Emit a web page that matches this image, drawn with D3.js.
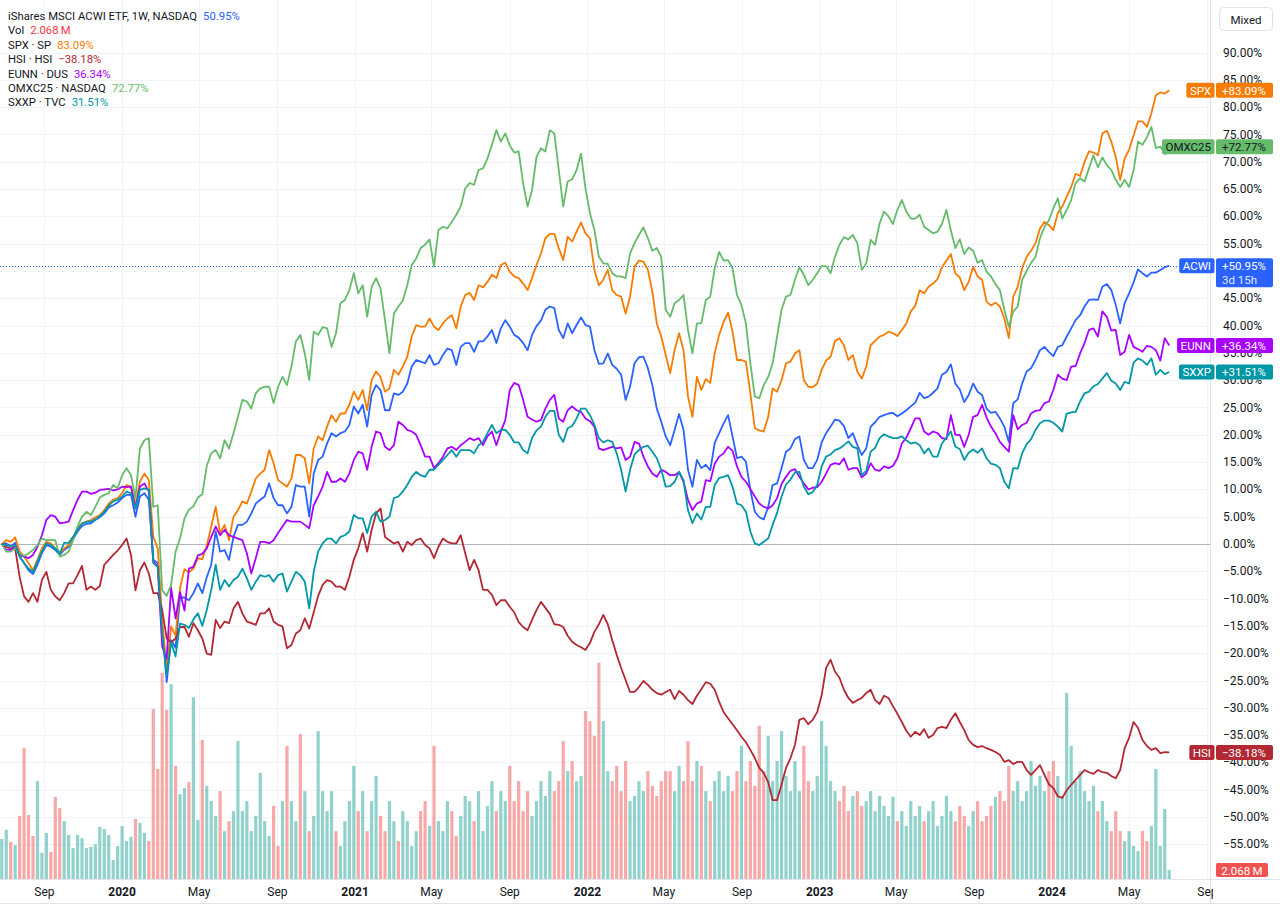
<!DOCTYPE html>
<html><head><meta charset="utf-8">
<script src="https://cdn.jsdelivr.net/npm/d3@7"></script>
<style>
html,body{margin:0;padding:0;background:#fff;}
svg{display:block;font-family:Roboto,"Noto Sans",sans-serif;}
</style></head><body>
<svg id="chart" width="1280" height="907"></svg>
<script>
// ---- data (weekly bars, % change since first bar) ----
const startDate = "2019-06-26";
const acwi = [0,0.1,-0.4,0.2,-2.3,-3.5,-4.8,-5.5,-3.8,-1.7,
-0.2,-0.5,-1.1,-2.0,-1.1,-0.5,0.9,2.3,3.3,3.7,
3.8,4.4,4.9,5.6,6.7,7.1,7.6,8.4,9.0,9.0,
5.0,8.7,9.3,8.1,-2.9,-3.5,-15.1,-25.3,-17.6,-19.0,
-9.8,-9.8,-10.3,-9.0,-7.2,-9.0,-6.1,-3.8,2.3,-1.4,
-1.1,-2.9,1.3,3.5,3.5,4.1,5.6,7.4,8.1,8.7,
11.1,8.4,7.1,7.1,5.6,6.8,10.8,10.5,10.5,5.0,
12.9,15.4,16.0,18.4,20.3,19.7,20.3,20.6,21.8,25.2,
23.9,25.5,21.5,27.3,29.1,28.2,24.5,24.5,27.6,27.3,
27.9,29.4,32.5,33.7,33.4,33.1,34.6,32.8,33.1,34.6,
35.8,35.5,32.8,36.1,36.8,36.8,35.2,37.1,37.1,38.0,
39.2,36.8,39.5,41.0,39.8,38.3,37.8,36.8,35.5,38.3,
39.9,40.9,42.9,43.5,43.2,39.2,37.7,40.4,38.6,40.1,
41.5,40.1,39.8,35.5,33.0,33.1,34.9,32.8,32.1,31.0,
26.4,28.8,33.1,34.2,34.3,32.2,29.1,24.8,22.4,19.7,
18.1,20.9,23.8,20.9,13.6,10.5,15.4,13.9,14.5,13.5,
18.5,20.3,22.1,23.6,19.7,15.7,16.0,15.1,9.9,5.9,
4.9,4.5,6.8,10.8,11.1,13.9,16.9,17.5,19.2,19.7,
15.4,13.9,13.9,15.4,18.6,20.3,21.5,22.8,22.6,21.6,
19.4,20.3,18.1,16.3,17.5,21.5,22.3,23.3,23.6,23.9,
24.0,23.4,23.9,24.5,25.2,25.9,27.7,26.7,27.0,27.7,
28.5,31.0,31.5,32.9,29.4,28.3,26.0,27.3,29.4,27.9,
27.3,24.8,24.0,24.2,23.0,21.5,18.7,25.8,26.5,29.4,
31.6,32.2,33.7,35.5,36.1,35.2,34.4,36.1,36.4,38.0,
39.5,41.0,41.9,43.5,44.7,44.8,44.7,47.1,47.6,46.5,
43.8,40.4,44.1,45.9,47.9,50.3,49.6,49.0,49.7,49.7,
50.2,50.7,50.95];
const spx = [0,0.7,0.4,1.2,-1.4,-2.3,-3.5,-4.8,-2.9,-0.8,
0.4,0.1,-0.8,-1.7,-0.8,-0.2,1.3,2.9,3.8,4.1,
4.4,4.9,5.3,6.2,7.4,8.1,8.4,9.3,10.8,10.5,
7.1,11.4,12.9,11.7,1.3,-0.8,-13.9,-23.0,-15.1,-16.8,
-8.0,-4.6,-5.2,-4.5,-2.6,-2.8,-0.3,3.2,6.8,2.0,
3.5,0.7,5.0,6.2,7.8,7.4,9.6,12.0,12.9,13.6,
17.2,14.8,11.7,11.1,10.5,12.0,16.3,16.3,15.7,11.1,
17.5,19.7,19.0,21.5,23.6,22.4,23.9,23.9,25.5,27.9,
26.4,28.2,24.5,30.0,31.6,30.6,27.9,28.5,31.9,31.0,
32.5,34.3,38.0,40.1,39.8,39.8,41.3,39.8,39.2,40.4,
41.3,41.9,39.5,43.5,45.6,46.0,44.7,47.4,47.0,48.0,
49.3,48.7,51.1,51.5,49.9,49.0,48.7,47.7,46.5,48.7,
51.1,53.2,56.0,56.8,56.8,54.2,52.0,56.3,55.4,57.2,
58.9,56.9,56.0,50.2,47.4,48.4,50.2,46.5,45.6,45.3,
42.2,45.3,50.8,51.9,51.7,50.2,46.2,40.4,38.0,34.6,
31.3,35.5,38.6,35.5,27.0,23.3,30.6,28.2,30.2,29.5,
35.0,38.3,40.7,42.4,38.9,33.7,33.7,33.4,27.6,21.2,
20.8,20.6,23.3,28.5,27.9,30.0,33.1,33.4,34.9,35.5,
30.0,28.8,28.7,29.4,31.9,33.6,34.3,37.2,37.7,36.4,
33.7,34.6,31.6,30.3,32.5,36.4,37.2,38.0,38.3,38.9,
38.6,38.1,39.2,40.4,42.6,43.6,46.5,45.9,47.1,47.7,
48.5,50.7,51.9,53.1,49.6,48.8,46.5,48.0,50.8,49.0,
48.4,44.4,43.7,44.2,43.5,41.3,37.7,45.3,47.1,50.5,
52.6,53.7,55.1,57.8,59.0,58.4,57.5,60.6,61.8,63.6,
65.4,67.8,67.4,70.0,71.9,71.7,71.2,75.2,75.7,73.7,
70.9,66.7,70.6,72.2,74.8,77.4,77.4,76.4,78.9,82.2,
82.7,82.5,83.09];
const hsi = [0,-0.5,-0.8,-0.8,-6.0,-9.6,-10.6,-9.0,-10.6,-6.6,
-5.1,-8.4,-9.6,-10.3,-9.0,-7.2,-7.2,-5.7,-4.0,-8.4,
-7.8,-8.4,-7.7,-3.8,-2.9,-2.0,-1.2,-0.2,1.0,-2.0,
-8.5,-4.8,-3.4,-5.4,-9.0,-9.0,-12.1,-17.3,-18.0,-17.3,
-15.2,-15.2,-17.0,-14.5,-15.8,-17.3,-20.1,-20.3,-13.9,-15.4,
-14.2,-14.5,-11.8,-10.6,-12.7,-14.2,-14.5,-14.8,-12.7,-12.7,
-11.8,-14.2,-14.8,-15.1,-19.1,-18.5,-16.4,-15.8,-13.6,-15.5,
-12.5,-9.5,-7.5,-6.6,-6.9,-7.8,-7.8,-8.4,-6.0,-2.9,
-0.8,2.0,-1.4,2.6,5.6,6.5,1.3,0.7,0.1,0.4,
-1.4,0.4,-0.2,0.7,1.0,-0.2,-0.8,-2.6,-0.5,1.0,
0.4,0.1,0.1,1.6,-1.7,-4.8,-2.9,-4.8,-8.4,-8.4,
-9.3,-11.2,-10.3,-10.3,-11.5,-12.5,-14.3,-15.2,-15.8,-13.9,
-12.1,-10.6,-11.7,-12.8,-14.7,-14.8,-15.2,-16.8,-17.9,-18.5,
-18.9,-19.4,-18.1,-16.1,-14.7,-13.0,-14.7,-17.6,-20.3,-22.7,
-24.9,-27.1,-27.1,-26.2,-25.1,-25.8,-26.7,-27.3,-27.6,-27.1,
-26.7,-28.4,-26.9,-27.6,-28.6,-29.3,-27.8,-26.6,-25.3,-25.6,
-26.7,-28.9,-30.8,-31.9,-33.0,-34.1,-35.3,-36.3,-37.7,-39.2,
-41.0,-41.9,-43.6,-46.9,-46.9,-44.1,-41.0,-39.2,-36.8,-32.2,
-31.9,-33.0,-32.2,-30.8,-27.7,-22.7,-21.2,-23.4,-24.5,-26.7,
-28.2,-29.1,-28.6,-28.2,-27.3,-26.7,-28.6,-29.3,-27.8,-28.2,
-29.7,-31.1,-32.6,-34.2,-35.3,-34.4,-35.0,-33.9,-35.5,-35.0,
-33.7,-33.5,-33.7,-32.2,-31.0,-32.6,-34.1,-35.9,-36.8,-37.2,
-37.0,-37.4,-37.7,-38.1,-38.6,-39.9,-39.6,-40.3,-39.9,-39.9,
-41.4,-42.3,-41.4,-40.5,-42.3,-44.0,-44.7,-46.2,-46.5,-45.1,
-44.1,-43.2,-42.3,-41.4,-41.8,-42.1,-41.4,-41.8,-41.9,-42.5,
-42.9,-41.4,-37.4,-35.5,-32.6,-33.7,-35.9,-37.0,-37.7,-37.4,
-38.3,-38.1,-38.18];
const eunn = [0,-1.0,-1.1,-0.2,-2.0,-2.3,-2.6,-2.0,-0.5,1.6,
4.4,5.3,5.0,3.8,3.9,4.1,6.2,8.1,9.6,9.6,
9.2,9.4,9.9,10.0,10.1,9.8,10.0,10.5,10.4,10.5,
6.5,10.5,11.1,9.6,-3.2,-4.2,-18.8,-21.0,-8.0,-13.6,
-8.8,-12.2,-4.5,-4.2,-2.1,-1.8,-0.8,1.3,3.2,1.6,
2.6,1.6,1.3,1.0,0.7,-1.7,-5.4,-2.6,0.4,0.4,
0.1,0.7,2.0,3.2,4.4,4.1,4.1,4.1,3.5,2.9,
7.1,8.7,10.5,13.2,11.4,11.4,12.0,11.4,12.9,15.4,
16.9,16.6,13.6,17.8,20.6,20.3,17.8,17.2,18.1,22.4,
21.8,20.9,20.6,20.0,18.1,16.0,16.0,13.9,14.8,16.0,
17.5,17.8,17.2,18.1,18.7,19.4,19.0,19.4,18.1,19.7,
20.6,18.1,20.6,22.7,28.2,29.5,29.1,26.4,23.3,22.8,
22.4,22.7,24.8,26.4,27.3,23.0,22.4,24.5,25.2,24.5,
24.2,23.0,22.5,21.5,17.5,17.2,17.5,17.8,17.5,17.7,
15.4,16.0,18.7,18.4,16.0,14.2,12.9,12.3,13.6,13.2,
12.6,12.6,13.2,11.4,8.1,6.2,7.4,7.8,11.7,11.5,
14.7,16.0,16.6,17.8,17.1,14.2,12.3,11.4,10.1,8.7,
7.4,6.8,6.5,7.1,8.4,11.0,12.3,13.4,13.7,12.3,
11.1,10.0,10.3,10.4,11.4,12.9,14.5,14.8,14.6,15.7,
13.6,13.9,13.9,12.2,12.9,14.8,13.6,13.4,14.2,13.9,
14.3,15.7,18.4,19.5,21.2,23.0,23.0,20.6,20.0,20.6,
20.3,19.4,19.2,23.6,20.0,20.0,17.8,20.0,23.3,23.6,
25.5,23.2,21.5,20.3,18.7,17.8,16.9,23.6,21.0,21.8,
22.2,23.9,24.4,24.5,25.8,26.1,28.2,31.0,30.3,30.0,
32.5,32.6,34.9,36.8,39.2,39.5,38.0,42.6,41.6,39.1,
39.2,34.6,35.2,38.3,36.1,35.7,35.2,36.3,36.1,35.5,
33.6,37.7,36.34];
const omxc25 = [0,-1.4,-1.4,-0.8,-1.7,-2.2,-1.7,-1.1,-0.2,1.0,
0.7,0.7,0.7,-2.3,-2.0,-1.4,0.7,3.2,5.0,5.9,
5.3,6.8,8.5,9.0,9.3,10.8,10.2,12.6,13.9,12.6,
8.4,17.5,19.0,19.4,6.8,7.1,-8.5,-9.5,-7.5,-1.4,
1.0,4.7,6.3,6.9,8.5,9.1,14.3,16.6,17.2,15.7,
19.0,17.5,20.3,23.3,26.4,26.1,24.8,27.6,28.5,28.8,
28.8,25.8,28.8,30.6,29.1,32.5,37.1,38.3,34.9,30.0,
38.9,38.3,39.7,39.5,36.1,38.6,44.1,44.7,46.5,49.6,
45.9,47.4,41.6,47.1,48.7,46.8,41.0,34.9,42.2,43.5,
44.6,47.4,51.1,52.3,54.2,54.8,55.8,50.8,57.5,58.1,
57.8,59.0,60.3,61.8,65.1,66.1,65.8,68.5,68.8,70.6,
73.1,75.8,73.7,75.2,73.0,71.7,71.9,66.1,61.8,64.8,
70.9,72.5,71.9,75.8,75.2,68.5,61.8,66.4,66.8,68.5,
71.5,65.1,60.6,57.5,52.6,51.4,51.3,49.6,49.0,49.0,
48.7,53.2,55.1,56.6,58.0,56.0,53.7,54.2,52.6,42.9,
41.6,44.1,44.7,45.6,39.2,34.9,40.4,40.4,44.7,45.3,
50.5,53.5,51.9,52.0,50.5,45.6,43.8,40.4,33.1,27.0,
26.7,29.1,30.6,33.1,38.0,42.9,45.3,45.6,48.4,50.7,
49.3,47.4,48.4,49.6,50.9,50.9,49.6,52.6,54.8,56.2,
55.8,56.6,55.1,50.2,51.4,55.7,54.8,58.7,60.9,60.0,
58.6,61.2,63.0,60.9,59.6,59.6,60.3,58.1,57.5,56.9,
57.2,58.6,61.2,57.4,54.2,55.8,53.1,54.3,53.7,51.5,
52.0,49.9,49.0,47.6,46.5,42.9,39.8,42.6,43.5,48.4,
50.0,51.5,52.6,56.0,58.1,59.3,61.5,63.3,59.6,61.2,
63.0,66.1,67.0,66.4,68.8,71.2,69.0,70.8,69.4,68.5,
66.7,65.4,66.7,65.4,68.4,73.7,73.1,74.5,76.4,72.5,
72.8,71.4,72.77];
const sxxp = [0,-0.2,-0.4,-0.2,-2.3,-3.5,-4.5,-5.1,-3.2,-1.4,
0.1,-0.2,-0.8,-1.7,0.2,0.2,1.3,2.6,3.7,4.1,
4.1,4.5,5.1,5.9,7.0,7.8,8.1,8.7,9.6,9.3,
6.5,9.9,10.2,9.9,-3.5,-4.2,-16.4,-24.0,-18.0,-20.6,
-14.6,-14.8,-15.4,-13.8,-12.7,-15.0,-12.1,-8.4,-3.8,-8.4,
-6.6,-7.8,-6.6,-6.0,-4.5,-6.3,-8.4,-6.9,-5.7,-6.0,
-5.7,-6.9,-5.7,-5.4,-8.7,-6.9,-5.1,-5.7,-6.9,-11.8,
-5.1,-1.4,0.1,1.0,1.0,0.1,1.3,1.6,2.3,5.3,
4.7,4.7,2.0,5.0,5.9,4.1,4.4,5.0,8.4,8.7,
9.6,10.8,12.3,13.2,12.6,12.3,13.6,13.6,14.5,15.4,
16.3,17.2,16.0,17.2,17.2,17.2,16.6,18.1,18.7,20.3,
21.8,20.3,20.9,20.9,20.0,18.6,18.6,17.2,16.6,19.4,
20.8,21.5,23.3,24.4,24.4,20.0,18.7,21.2,21.6,23.0,
24.8,24.8,23.6,21.8,19.4,18.6,19.0,18.7,16.6,13.6,
9.6,13.6,16.4,17.2,17.8,18.0,16.9,15.7,13.6,10.5,
10.6,11.4,13.2,11.7,6.2,3.8,5.6,4.5,6.8,6.8,
10.8,12.1,12.3,12.6,10.5,7.4,7.1,5.9,2.3,0.1,
-0.2,0.4,1.0,3.5,5.7,8.7,10.9,11.8,13.1,13.2,
10.5,9.1,9.5,10.8,14.2,16.0,16.4,17.2,17.5,18.1,
18.8,17.8,17.5,12.6,13.4,16.9,17.6,19.4,20.1,19.7,
19.4,19.4,19.7,19.0,18.4,18.6,18.1,16.6,17.5,16.0,
16.0,18.4,19.5,20.6,17.8,17.4,15.4,16.7,17.3,16.7,
17.5,15.7,14.7,14.5,13.9,11.4,10.2,13.9,13.8,16.6,
18.3,19.2,20.9,22.1,22.6,22.6,22.2,21.5,20.6,23.9,
24.1,24.2,26.1,27.6,27.9,28.9,29.3,30.3,31.3,29.9,
29.4,28.2,29.7,29.4,33.2,34.0,33.6,32.8,34.0,31.0,
31.9,31.1,31.51];
// weekly volume, millions of shares
const volume = [9.2,11.3,8.5,7.8,14.5,30.1,14.7,9.9,22.5,6.0,
10.6,6.2,18.9,16.3,13.3,10.1,7.1,10.1,9.4,7.1,
7.4,8.0,12.0,11.5,10.1,4.4,7.6,12.2,8.7,9.7,
13.8,12.9,10.6,8.7,39.1,25.3,47.4,38.9,44.8,26.0,
19.5,20.9,22.3,41.8,13.6,32.0,21.4,17.9,14.5,20.2,
11.0,13.3,15.6,31.7,15.6,17.9,11.0,14.5,24.4,13.3,
9.9,16.8,7.6,17.9,30.6,17.9,13.3,33.3,20.2,11.0,
14.5,34.0,20.2,15.6,20.2,11.0,7.6,13.3,17.9,26.0,
15.6,20.2,11.0,17.9,23.7,14.5,11.0,17.9,13.3,8.7,
15.6,13.3,7.6,11.0,15.6,17.9,12.2,30.6,13.3,11.0,
17.9,15.6,9.9,14.5,19.1,17.9,13.3,20.2,11.0,16.8,
22.5,15.6,20.2,17.9,26.0,17.9,22.5,15.6,20.2,14.5,
17.9,22.5,19.1,24.8,20.2,22.5,31.7,24.8,27.1,22.5,
23.7,38.6,36.3,32.9,49.7,36.3,24.8,22.5,26.0,20.2,
27.1,17.9,19.1,22.5,20.2,24.8,21.4,19.1,22.5,24.8,
24.8,20.2,26.0,22.5,31.7,22.5,27.1,26.0,20.2,17.9,
22.5,24.8,20.2,23.7,20.2,24.8,30.6,22.5,27.1,21.4,
35.2,24.8,32.9,22.5,27.1,34.0,23.7,20.2,27.1,20.2,
30.6,22.5,20.2,23.7,36.3,30.6,22.5,20.2,17.9,21.4,
15.6,19.1,20.2,16.8,17.9,20.2,15.6,19.1,16.8,14.5,
18.9,13.3,15.6,12.2,17.9,14.5,16.8,13.3,15.6,17.9,
12.2,14.5,19.1,15.6,13.3,16.8,14.5,12.2,15.6,17.9,
13.3,14.5,16.8,18.9,20.2,17.9,26.0,20.2,22.5,17.9,
20.2,27.1,21.4,23.7,20.2,24.8,27.1,23.7,19.1,42.8,
30.6,22.5,24.8,20.2,17.9,21.4,15.6,17.9,13.3,11.0,
15.6,11.0,8.7,11.0,7.6,6.4,11.0,8.7,12.2,25.3,
7.6,16.1,2.068];

const yTickValues = [90,85,80,75,70,65,60,55,50,45,40,35,30,25,20,15,10,5,0,-5,-10,-15,-20,-25,-30,-35,-40,-45,-50,-55];
const xTickDates = ["2019-09-01","2020-01-01","2020-05-01","2020-09-01","2021-01-01","2021-05-01","2021-09-01","2022-01-01","2022-05-01","2022-09-01","2023-01-01","2023-05-01","2023-09-01","2024-01-01","2024-05-01","2024-09-01"];
const xTickLabels = ["Sep","2020","May","Sep","2021","May","Sep","2022","May","Sep","2023","May","Sep","2024","May","Sep"];

const seriesNames = ["ACWI","SPX","HSI","EUNN","OMXC25","SXXP"];
const legendNames = ["iShares MSCI ACWI ETF, 1W, NASDAQ","SPX · SP","HSI · HSI","EUNN · DUS","OMXC25 · NASDAQ","SXXP · TVC"];
const seriesColors = ["#2962ff","#f57c00","#b22833","#aa00ff","#66bb6a","#0097a7"];
const labelTextColors = ["#fff","#fff","#fff","#fff","#131722","#fff"];
const seriesData = [acwi, spx, hsi, eunn, omxc25, sxxp];

// ---- layout ----
const PANE_R = 1210, PANE_B = 879;
const svg = d3.select("#chart");
const parse = d3.timeParse("%Y-%m-%d");
const d0 = parse(startDate);
const dates = acwi.map((_, i) => d3.timeDay.offset(d0, 7 * i));
const x = d3.scaleTime().domain([d0, dates[dates.length - 1]]).range([1.8, 1169.2]);
const y = d3.scaleLinear().domain([0, 90]).range([544, 52.6]);
const yv = d3.scaleLinear().domain([0, 50]).range([PANE_B, PANE_B - 217.5]);

svg.append("rect").attr("width",1280).attr("height",907).attr("fill","#fff");
svg.append("defs").append("clipPath").attr("id","pane")
  .append("rect").attr("x",0).attr("y",0).attr("width",PANE_R).attr("height",PANE_B);
svg.select("defs").append("clipPath").attr("id","timeclip")
  .append("rect").attr("x",0).attr("y",PANE_B).attr("width",PANE_R+3).attr("height",30);

// grid
const grid = svg.append("g").attr("clip-path","url(#pane)");
grid.selectAll("line.h").data(yTickValues).join("line")
  .attr("x1",0).attr("x2",PANE_R).attr("y1",d=>Math.round(y(d))+0.5).attr("y2",d=>Math.round(y(d))+0.5)
  .attr("stroke","#f0f3fa").attr("stroke-width",1);
grid.selectAll("line.v").data(xTickDates).join("line")
  .attr("x1",d=>Math.round(x(parse(d)))+0.5).attr("x2",d=>Math.round(x(parse(d)))+0.5)
  .attr("y1",0).attr("y2",PANE_B).attr("stroke","#f0f3fa").attr("stroke-width",1);

// volume bars
const plot = svg.append("g").attr("clip-path","url(#pane)");
plot.selectAll("rect.vol").data(volume).join("rect")
  .attr("x",(d,i)=>x(dates[i]) - 1.6).attr("width",3.2)
  .attr("y",d=>yv(d)).attr("height",d=>PANE_B - yv(d))
  .attr("fill",(d,i)=> (i===0 || acwi[i] >= acwi[i-1]) ? "rgba(38,166,154,0.5)" : "rgba(239,83,80,0.5)");

// zero line
plot.append("line").attr("x1",0).attr("x2",PANE_R).attr("y1",Math.round(y(0))+0.5).attr("y2",Math.round(y(0))+0.5)
  .attr("stroke","#b2b5be").attr("stroke-width",1);
// last price dotted line
const lastY = y(acwi[acwi.length-1]);
plot.append("line").attr("x1",0).attr("x2",PANE_R).attr("y1",Math.round(lastY)+0.5).attr("y2",Math.round(lastY)+0.5)
  .attr("stroke","#2962ff").attr("stroke-width",1).attr("stroke-dasharray","1,2");

// lines
const line = d3.line().x((d,i)=>x(dates[i])).y(d=>y(d));
seriesData.forEach((s, k) => {
  plot.append("path").datum(s).attr("d", line).attr("fill","none")
    .attr("stroke", seriesColors[k]).attr("stroke-width",1.8).attr("stroke-linejoin","round");
});

// borders
svg.append("line").attr("x1",PANE_R+0.5).attr("x2",PANE_R+0.5).attr("y1",0).attr("y2",903).attr("stroke","#e0e3eb");
svg.append("line").attr("x1",0).attr("x2",1280).attr("y1",PANE_B+0.5).attr("y2",PANE_B+0.5).attr("stroke","#e0e3eb");
svg.append("line").attr("x1",0).attr("x2",1280).attr("y1",903.5).attr("y2",903.5).attr("stroke","#e0e3eb");

// price axis labels
const fmtPct = v => (v < 0 ? "\u2212" : "") + Math.abs(v).toFixed(2) + "%";
svg.append("g").selectAll("text").data(yTickValues).join("text")
  .attr("x",1223).attr("y",d=>y(d)).attr("dominant-baseline","central")
  .attr("font-size",12).attr("fill","#131722").text(fmtPct);

// time axis labels
svg.append("g").attr("clip-path","url(#timeclip)").selectAll("text").data(xTickDates).join("text")
  .attr("x",d=>x(parse(d))).attr("y",892).attr("text-anchor","middle").attr("dominant-baseline","central")
  .attr("font-size",12).attr("fill","#131722")
  .attr("font-weight",(d,i)=> /^\d{4}$/.test(xTickLabels[i]) ? 700 : 400)
  .text((d,i)=>xTickLabels[i]);

// value labels on the price scale
function valueLabel(name, valText, color, txtColor, yPos, extra) {
  const g = svg.append("g");
  const nt = g.append("text").attr("font-size",11.5).text(name);
  const w = nt.node().getComputedTextLength();
  const bw = w + 7;
  g.insert("rect","text").attr("x",1214.5 - bw).attr("y",yPos-7.5).attr("width",bw).attr("height",15).attr("rx",2).attr("fill",color);
  nt.attr("x",1214.5 - bw/2).attr("y",yPos+0.5).attr("text-anchor","middle").attr("dominant-baseline","central").attr("fill",txtColor);
  const h = extra ? 29 : 15;
  g.append("rect").attr("x",1216).attr("y",yPos-7.5).attr("width",57).attr("height",h).attr("rx",2).attr("fill",color);
  g.append("text").attr("x",1222).attr("y",yPos+0.5).attr("dominant-baseline","central").attr("font-size",11.5).attr("fill",txtColor).text(valText);
  if (extra) g.append("text").attr("x",1222).attr("y",yPos+14).attr("dominant-baseline","central").attr("font-size",11.5).attr("fill",txtColor).attr("opacity",0.85).text(extra);
}
const signed = v => (v >= 0 ? "+" : "\u2212") + Math.abs(v).toFixed(2) + "%";
seriesData.forEach((s,k) => {
  const v = s[s.length-1];
  valueLabel(seriesNames[k], signed(v), seriesColors[k], labelTextColors[k], y(v), k===0 ? "3d 15h" : null);
});
// volume label
const lastVol = volume[volume.length-1];
svg.append("rect").attr("x",1216).attr("y",yv(lastVol)-7).attr("width",52).attr("height",14).attr("rx",2).attr("fill","#f0524f");
svg.append("text").attr("x",1242).attr("y",yv(lastVol)+0.5).attr("text-anchor","middle").attr("dominant-baseline","central")
  .attr("font-size",11.5).attr("fill","#fff").text(lastVol.toFixed(3) + "\u2009M");

// Mixed button
svg.append("rect").attr("x",1219.5).attr("y",7.5).attr("width",53).attr("height",23).attr("rx",4).attr("fill","#fff").attr("stroke","#e0e3eb");
svg.append("text").attr("x",1246).attr("y",19.5).attr("text-anchor","middle").attr("dominant-baseline","central").attr("font-size",11.5).attr("fill","#131722").text("Mixed");

// legend
const legendRows = [
  {name: legendNames[0], val: acwi[acwi.length-1].toFixed(2) + "%", color: seriesColors[0]},
  {name: "Vol", val: lastVol.toFixed(3) + "\u2009M", color: "#f23645"},
  {name: legendNames[1], val: fmtPct(spx[spx.length-1]), color: seriesColors[1]},
  {name: legendNames[2], val: fmtPct(hsi[hsi.length-1]), color: seriesColors[2]},
  {name: legendNames[3], val: fmtPct(eunn[eunn.length-1]), color: seriesColors[3]},
  {name: legendNames[4], val: fmtPct(omxc25[omxc25.length-1]), color: seriesColors[4]},
  {name: legendNames[5], val: fmtPct(sxxp[sxxp.length-1]), color: seriesColors[5]}
];
const lg = svg.append("g");
legendRows.forEach((r, k) => {
  const yy = 16.5 + 14.4 * k;
  const t = lg.append("text").attr("x",8).attr("y",yy).attr("dominant-baseline","central").attr("font-size",11.3).attr("fill","#131722").text(r.name);
  const w = t.node().getComputedTextLength();
  lg.append("text").attr("x",8 + w + 6).attr("y",yy).attr("dominant-baseline","central").attr("font-size",11.3).attr("fill",r.color).text(r.val);
});
</script>
</body></html>
